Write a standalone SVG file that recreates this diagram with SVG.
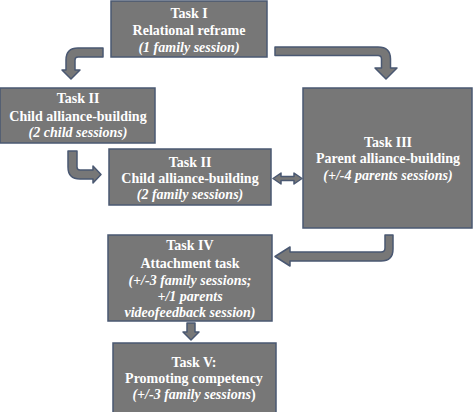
<svg xmlns="http://www.w3.org/2000/svg" width="474" height="412" viewBox="0 0 474 412">
<style>
.box{fill:#777777;stroke:#4a5872;stroke-width:1.5}
.arr{fill:#777777;stroke:#4a5872;stroke-width:1.5;stroke-linejoin:round}
text{font-family:"Liberation Serif","Times New Roman",serif;font-weight:bold;font-size:14px;fill:#ffffff;text-anchor:middle}
.i{font-style:italic}
.n{font-style:normal}
</style>
<rect width="474" height="412" fill="#ffffff"/>
<g id="connectors">
<path class="arr" d="M103,48 L78,48 Q66,48 66,60 L66,70 L62,70 L71,79 L80,70 L75,70 L75,60 Q75,57 78,57 L103,57 Z"/>
<path class="arr" d="M275,47 L378,47 Q390.5,47 390.5,59 L390.5,68 L397,68 L386,79 L375,68 L381.5,68 L381.5,59 Q381.5,55.5 378,55.5 L275,55.5 Z"/>
<path class="arr" d="M68,151 L68,167 Q68,179 80,179 L93,179 L93,183 L101,174.5 L93,166 L93,170 L80,170 Q77,170 77,167 L77,151 Z"/>
<path class="arr" d="M273,178.5 L281,173 L281,176.5 L294,176.5 L294,173 L302,178.5 L294,184 L294,180.5 L281,180.5 L281,184 Z"/>
<path class="arr" d="M393,235 L393,249 Q393,261 381,261 L290,261 L290,266 L275,256.5 L290,247 L290,252 L381,252 Q385,252 385,248 L385,235 Z"/>
<path class="arr" d="M187,323 L195,323 L195,332 L199,332 L191,340 L183,332 L187,332 Z"/>
</g>
<g id="task1">
<rect class="box" x="111" y="1" width="156" height="56"/>
<text x="189" y="18">Task I</text>
<text x="189" y="35">Relational reframe</text>
<text x="189" y="52" class="i">(1 family session)</text>
</g>
<g id="task2child">
<rect class="box" x="0" y="88" width="155" height="55"/>
<text x="78" y="103">Task II</text>
<text x="78" y="121">Child alliance-building</text>
<text x="78" y="137" class="i">(2 child sessions)</text>
</g>
<g id="task3">
<rect class="box" x="303" y="88" width="169" height="140"/>
<text x="388" y="147">Task III</text>
<text x="388" y="163">Parent alliance-building</text>
<text x="388" y="180" class="i">(+/-4 parents sessions)</text>
</g>
<g id="task2family">
<rect class="box" x="109" y="149" width="162" height="56"/>
<text x="190" y="167">Task II</text>
<text x="190" y="183">Child alliance-building</text>
<text x="190" y="199" class="i">(2 family sessions)</text>
</g>
<g id="task4">
<rect class="box" x="108" y="235" width="164" height="86"/>
<text x="190" y="250">Task IV</text>
<text x="190" y="268">Attachment task</text>
<text x="190" y="285" class="i">(+/-3 family sessions;</text>
<text x="190" y="301" class="i">+/1 parents</text>
<text x="190" y="317" class="i">videofeedback session)</text>
</g>
<g id="task5">
<rect class="box" x="113" y="343" width="163" height="70"/>
<text x="194" y="367">Task V:</text>
<text x="194" y="383">Promoting competency</text>
<text x="194" y="399"><tspan class="i">(+/-3 family sessions</tspan>)</text>
</g>
</svg>
